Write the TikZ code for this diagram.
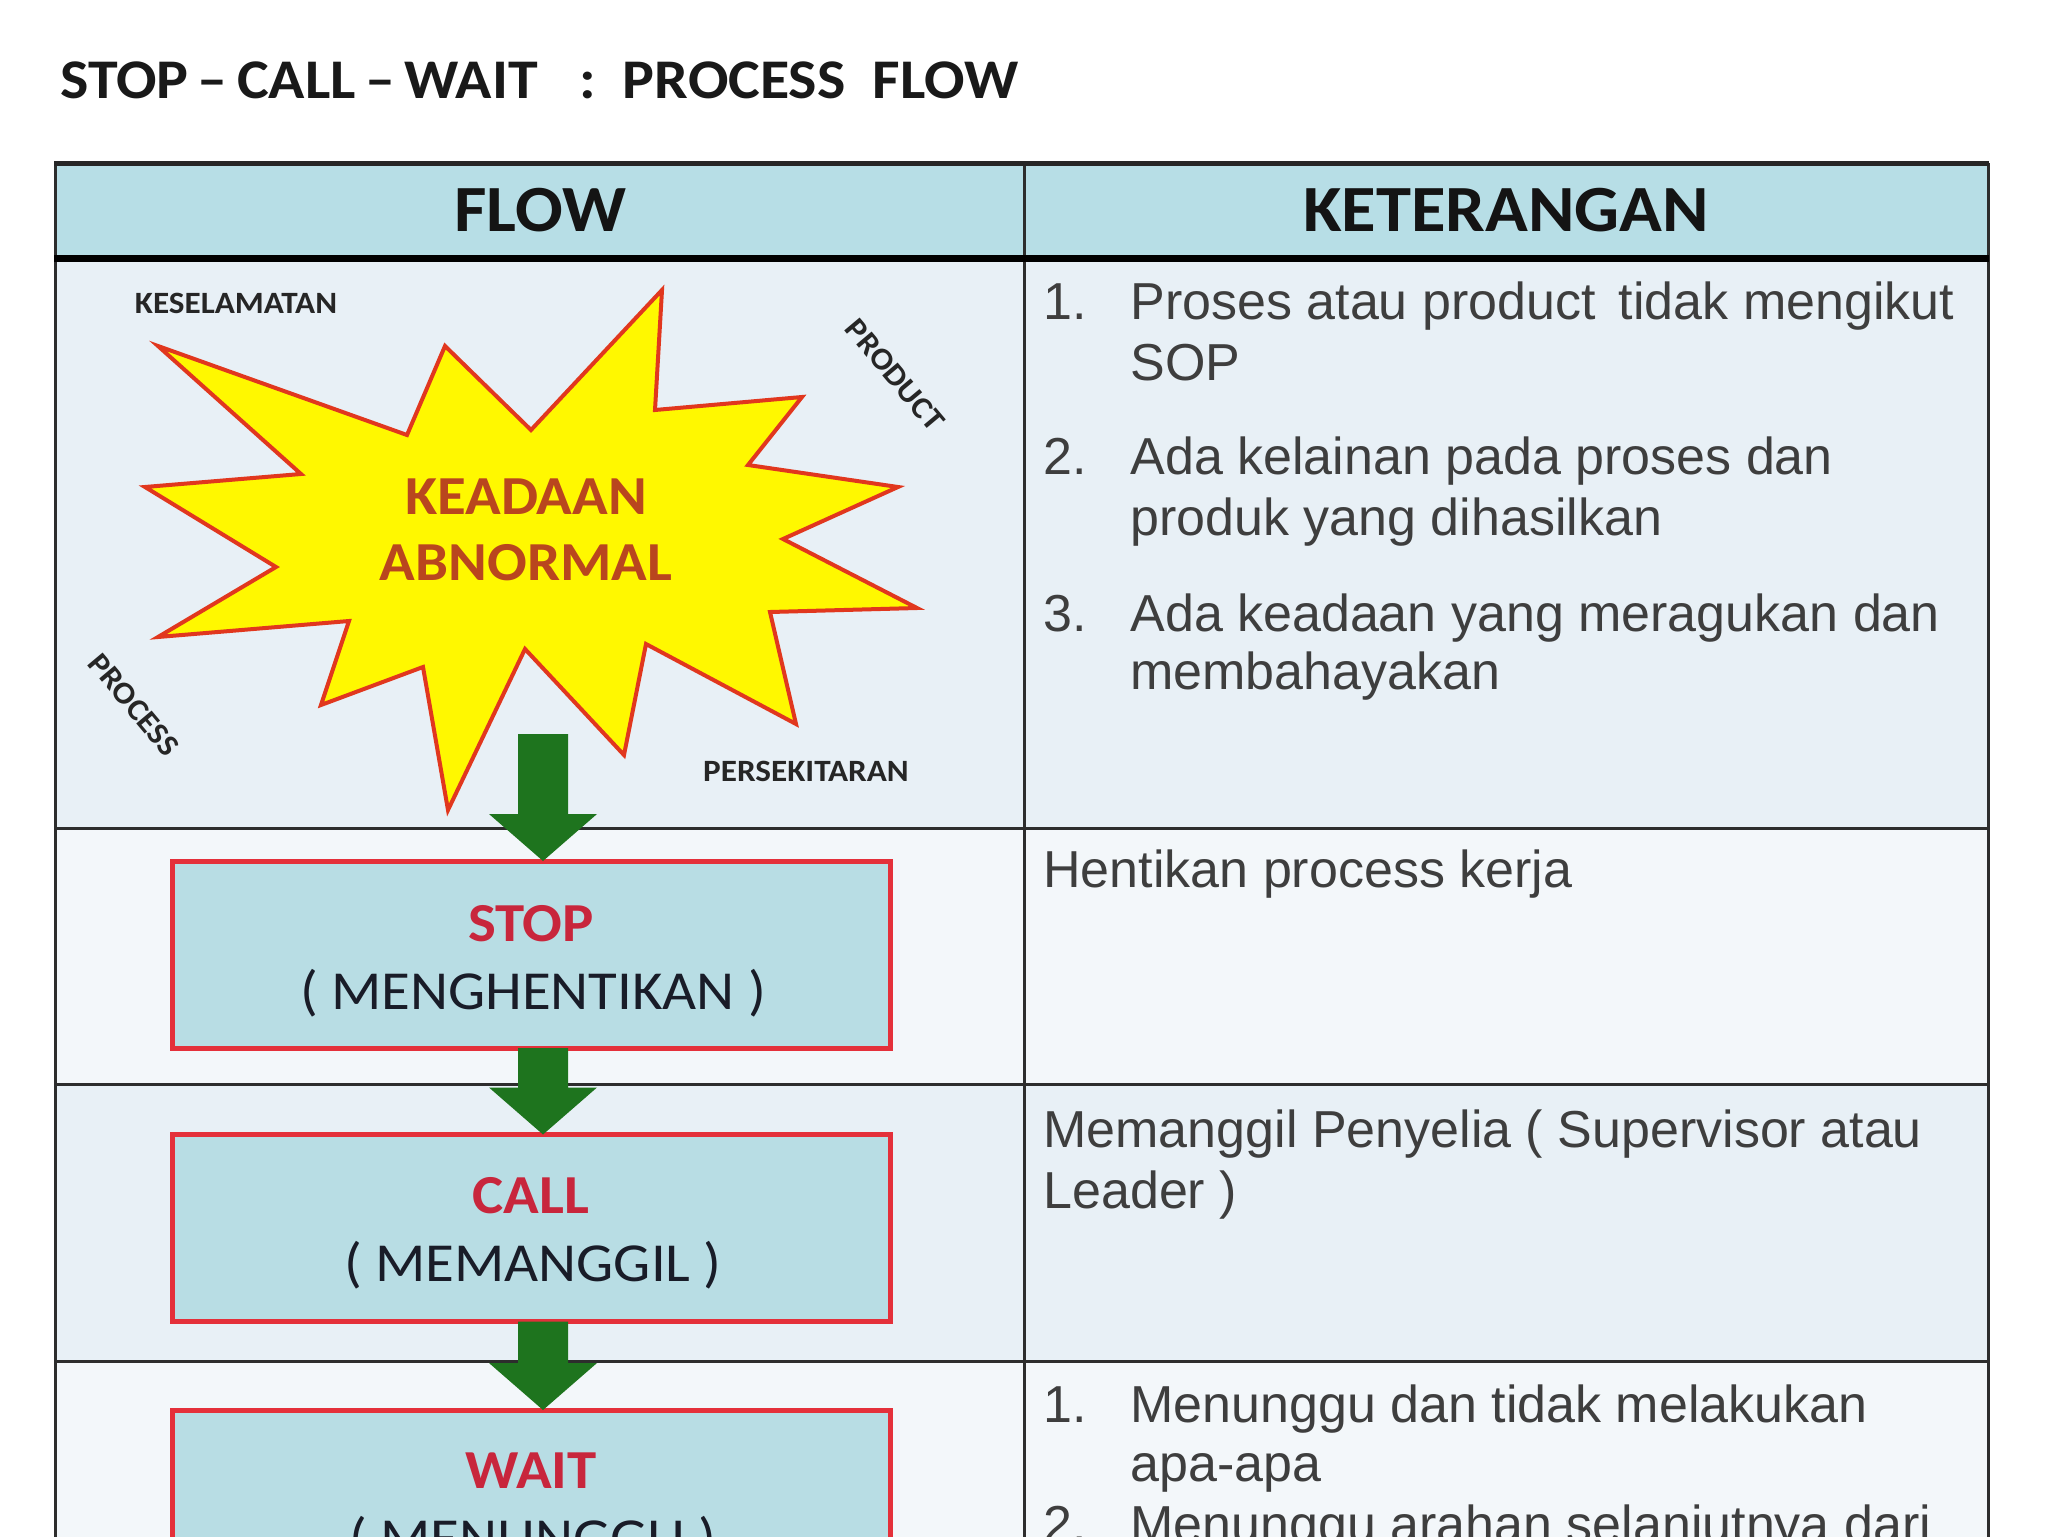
\documentclass[tikz,border=0pt]{standalone}
\usepackage{fontspec}
\setmainfont{Carlito}[FakeStretch=1.07]
\newfontfamily\arialf{Liberation Sans}
\usetikzlibrary{calc}
\definecolor{hdrfill}{RGB}{183,222,230}
\definecolor{rowA}{RGB}{232,240,246}
\definecolor{rowB}{RGB}{243,247,250}
\definecolor{boxfill}{RGB}{184,221,228}
\definecolor{boxred}{RGB}{228,48,58}
\definecolor{starred}{RGB}{225,55,30}
\definecolor{staryellow}{RGB}{255,248,0}
\definecolor{startext}{RGB}{185,70,30}
\definecolor{stoptext}{RGB}{200,38,60}
\definecolor{subtext}{RGB}{25,28,40}
\definecolor{arrowgreen}{RGB}{30,116,30}
\definecolor{graytext}{RGB}{62,62,62}
\definecolor{gridline}{RGB}{45,45,45}
\newcommand\greenarrow[2]{\fill[arrowgreen] ($(#1)+(-25,0)$) -- ($(#2)+(-25,-47)$) -- ($(#2)+(-54,-47)$) -- (#2) -- ($(#2)+(54,-47)$) -- ($(#2)+(25,-47)$) -- ($(#1)+(25,0)$) -- cycle;}
\begin{document}
\begin{tikzpicture}[x=0.5pt,y=-0.5pt,
  titletxt/.style={anchor=base west, inner sep=0, text=black!90, font=\fontsize{28}{34}\selectfont\bfseries},
  hdr/.style={anchor=base, inner sep=0, text=black!92, font=\fontsize{33}{40}\selectfont\bfseries},
  desc/.style={anchor=base west, inner sep=0, text=graytext, font=\arialf\fontsize{26}{31}\selectfont},
  flowbox/.style={draw=boxred, line width=2.5pt, fill=boxfill, minimum width=359pt, minimum height=93.5pt, inner sep=0, outer sep=0},
  boxtitle/.style={anchor=base, inner sep=0, text=stoptext, font=\fontsize{27.5}{32}\selectfont\bfseries},
  boxsub/.style={anchor=base, inner sep=0, text=subtext, font=\fontsize{27.5}{32}\selectfont},
  starlbl/.style={inner sep=0, text=black!85, font=\fontsize{15.5}{18}\selectfont\bfseries},
  startxt/.style={anchor=base, inner sep=0, text=startext, font=\fontsize{27.5}{32}\selectfont\bfseries},
  gridrule/.style={draw=gridline, line width=1.5pt}
]
\useasboundingbox (0,0) rectangle (2048,1536);
\clip (0,0) rectangle (2048,1536);
\fill[white] (0,0) rectangle (2048,1536);

% title
\node[titletxt] (title) at (60,98) {STOP\,--\,CALL\,--\,WAIT \enspace : \ PROCESS \ FLOW};

% table fills
\fill[hdrfill] (55,163) rectangle (1988,258);
\fill[rowA] (55,258) rectangle (1988,828);
\fill[rowB] (55,828) rectangle (1988,1084);
\fill[rowA] (55,1084) rectangle (1988,1361);
\fill[rowB] (55,1361) rectangle (1988,1600);

% table rules
\draw[gridrule] (55,828) -- (1988,828);
\draw[gridrule] (55,1084) -- (1988,1084);
\draw[gridrule] (55,1361) -- (1988,1361);
\draw[gridrule] (55,163) -- (55,1600);
\draw[gridrule] (1024,163) -- (1024,1600);
\draw[gridrule] (1988,163) -- (1988,1600);
\draw[draw=black!85, line width=2.5pt] (54,163) -- (1989,163);
\draw[draw=black, line width=3.5pt] (54,258) -- (1989,258);

% headers
\node[hdr] (hflow) at (540,231) {FLOW};
\node[hdr] (hket) at (1506,231) {KETERANGAN};

% star
\draw[starred, line width=2pt, fill=staryellow, line join=miter]
  (662,290) -- (655,410) -- (802,397) -- (748,465) -- (898,487) -- (783,539)
  -- (917,608) -- (770,612) -- (796,724) -- (646,644) -- (624,755) -- (525,649)
  -- (448,810) -- (423,667) -- (321,705) -- (349,621) -- (158,637) -- (276,567)
  -- (145,487) -- (301,474) -- (158,346) -- (407,435) -- (445,346) -- (531,430) -- cycle;
\node[startxt] (keadaan) at (526,514) {KEADAAN};
\node[startxt] (abnormal) at (526,580) {ABNORMAL};
\node[starlbl] (kesel) at (236,303) {KESELAMATAN};
\node[starlbl, rotate=-50] (product) at (895,375) {PRODUCT};
\node[starlbl, rotate=-50] (process) at (134,705) {PROCESS};
\node[starlbl] (persek) at (806,771) {PERSEKITARAN};
\coordinate (starfoot) at (543,734);

% flow boxes
\node[flowbox] (stop) at (531,954.5) {};
\node[boxtitle] (stopt) at (531,941) {STOP};
\node[boxsub] (stops) at (533,1009) {( MENGHENTIKAN )};
\node[flowbox] (call) at (531,1228) {};
\node[boxtitle] (callt) at (531,1213) {CALL};
\node[boxsub] (calls) at (533,1281) {( MEMANGGIL )};
\node[flowbox] (wait) at (531,1503.5) {};
\node[boxtitle] (waitt) at (531,1488) {WAIT};
\node[boxsub] (waits) at (533,1556) {( MENUNGGU )};

% arrows
\coordinate (a1t) at ($(stop.north)+(12,0)$);
\coordinate (a2s) at ($(stop.south)+(12,0)$);
\coordinate (a2t) at ($(call.north)+(12,0)$);
\coordinate (a3s) at ($(call.south)+(12,0)$);
\coordinate (a3t) at ($(wait.north)+(12,0)$);
\greenarrow{starfoot}{a1t}
\greenarrow{a2s}{a2t}
\greenarrow{a3s}{a3t}

% descriptions
\node[desc] (n1) at (1043,319) {1.};
\node[desc] (d1a) at (1130,319) {Proses atau product\, tidak mengikut};
\node[desc] (d1b) at (1130,380) {SOP};
\node[desc] (n2) at (1043,474) {2.};
\node[desc] (d2a) at (1130,474) {Ada kelainan pada proses dan};
\node[desc] (d2b) at (1130,535) {produk yang dihasilkan};
\node[desc] (n3) at (1043,631) {3.};
\node[desc] (d3a) at (1130,631) {Ada keadaan yang meragukan dan};
\node[desc] (d3b) at (1130,689) {membahayakan};
\node[desc] (dstop) at (1043,887) {Hentikan process kerja};
\node[desc] (dcalla) at (1043,1147) {Memanggil Penyelia ( Supervisor atau};
\node[desc] (dcallb) at (1043,1208) {Leader )};
\node[desc] (n4) at (1043,1422) {1.};
\node[desc] (d4a) at (1130,1422) {Menunggu dan tidak melakukan};
\node[desc] (d4b) at (1130,1481) {apa-apa};
\node[desc] (n5) at (1043,1542) {2.};
\node[desc] (d5a) at (1130,1542) {Menunggu arahan selanjutnya dari};
\end{tikzpicture}
\end{document}
